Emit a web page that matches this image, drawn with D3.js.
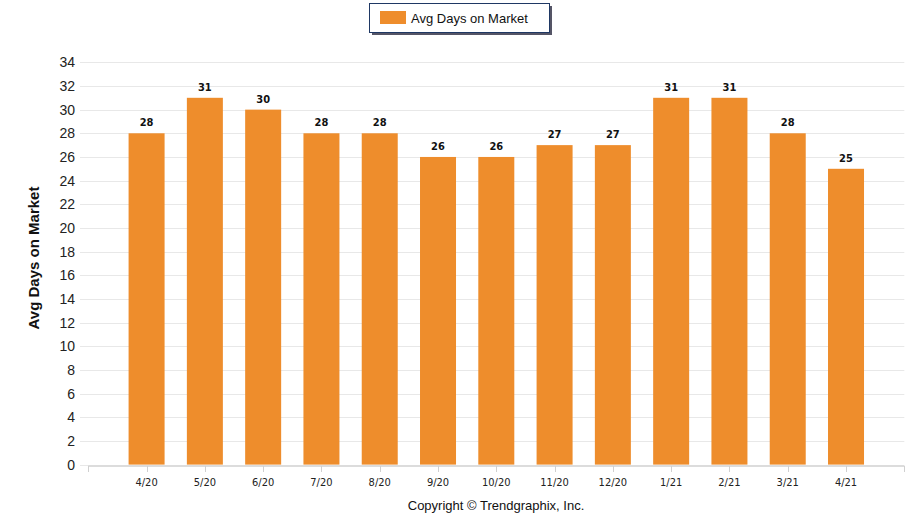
<!DOCTYPE html>
<html><head><meta charset="utf-8">
<script src="https://cdn.jsdelivr.net/npm/d3@7"></script>
<style>body{margin:0;background:#fff;font-family:"Open Sans","DejaVu Sans",sans-serif;}</style>
</head><body>
<svg id="c" width="924" height="518"></svg>
<script>
const categories = ["4/20","5/20","6/20","7/20","8/20","9/20","10/20","11/20","12/20","1/21","2/21","3/21","4/21"];
const avgDays = [28,31,30,28,28,26,26,27,27,31,31,28,25];
const yTicks = [0,2,4,6,8,10,12,14,16,18,20,22,24,26,28,30,32,34];
const seriesName = "Avg Days on Market";
const barColor = "#ee8d2c";

const svg = d3.select("#c");
const x = d3.scalePoint().domain(categories).range([88.3, 904.3]).padding(1);
const y = d3.scaleLinear().domain([0,34]).range([464.6, 62.3]);
const barW = 36;

// gridlines
svg.append("g").selectAll("line").data(yTicks).join("line")
  .attr("x1",80).attr("x2",904.3)
  .attr("y1",d=>Math.round(y(d))+0.5).attr("y2",d=>Math.round(y(d))+0.5)
  .attr("stroke","#e8e8e8").attr("stroke-width",1);

// y labels
svg.append("g").selectAll("text").data(yTicks).join("text")
  .attr("x",75).attr("y",d=>y(d)).attr("dy","0.35em")
  .attr("text-anchor","end").attr("font-size",14).attr("fill","#222")
  .attr("font-family","Liberation Sans, Arial, sans-serif")
  .text(d=>d);

// bars
svg.append("g").selectAll("rect").data(avgDays).join("rect")
  .attr("x",(d,i)=>x(categories[i])-barW/2).attr("width",barW)
  .attr("y",d=>y(d)).attr("height",d=>y(0)-y(d)).attr("fill",barColor);

// value labels
svg.append("g").selectAll("text").data(avgDays).join("text")
  .attr("x",(d,i)=>x(categories[i])).attr("y",d=>y(d)-7)
  .attr("text-anchor","middle").attr("font-size",11).attr("font-weight","bold")
  .attr("font-family","DejaVu Sans Condensed, DejaVu Sans, sans-serif")
  .attr("fill","#111").text(d=>d);

// x axis
const xa = svg.append("g").attr("transform",`translate(0,${Math.round(y(0))+1})`);
xa.append("line").attr("x1",88.3).attr("x2",904.3).attr("y1",0).attr("y2",0)
  .attr("stroke","#dcdcdc").attr("stroke-width",2);
const tickPos = [88.3, ...categories.map(c=>x(c)), 904.3];
xa.selectAll("line.t").data(tickPos).join("line").attr("class","t")
  .attr("x1",d=>Math.round(d)+0.5).attr("x2",d=>Math.round(d)+0.5).attr("y1",0).attr("y2",6)
  .attr("stroke","#d0d0d0");
xa.selectAll("text").data(categories).join("text")
  .attr("x",d=>x(d)).attr("y",20).attr("text-anchor","middle")
  .attr("font-size",11).attr("fill","#222")
  .attr("font-family","DejaVu Sans Condensed, DejaVu Sans, sans-serif").text(d=>d);

// y title
svg.append("text").attr("transform","translate(39,258) rotate(-90)")
  .attr("text-anchor","middle").attr("font-size",15).attr("font-weight","bold")
  .attr("font-family","Liberation Sans, Arial, sans-serif").attr("fill","#111").text(seriesName);

// legend
const lg = svg.append("g");
lg.append("rect").attr("x",372).attr("y",6).attr("width",180).attr("height",29).attr("fill","#556");
lg.append("rect").attr("x",369.5).attr("y",3.5).attr("width",180).attr("height",29)
  .attr("fill","#fff").attr("stroke","#1f3864").attr("stroke-width",1);
lg.append("rect").attr("x",380).attr("y",11).attr("width",26).attr("height",13).attr("fill",barColor);
lg.append("text").attr("x",411).attr("y",22.5).attr("font-size",13)
  .attr("font-family","Liberation Sans, Arial, sans-serif").attr("fill","#111").text(seriesName);

// copyright
svg.append("text").attr("x",496).attr("y",510).attr("text-anchor","middle")
  .attr("font-size",13).attr("font-family","Liberation Sans, Arial, sans-serif")
  .attr("fill","#111").text("Copyright © Trendgraphix, Inc.");
</script>
</body></html>
